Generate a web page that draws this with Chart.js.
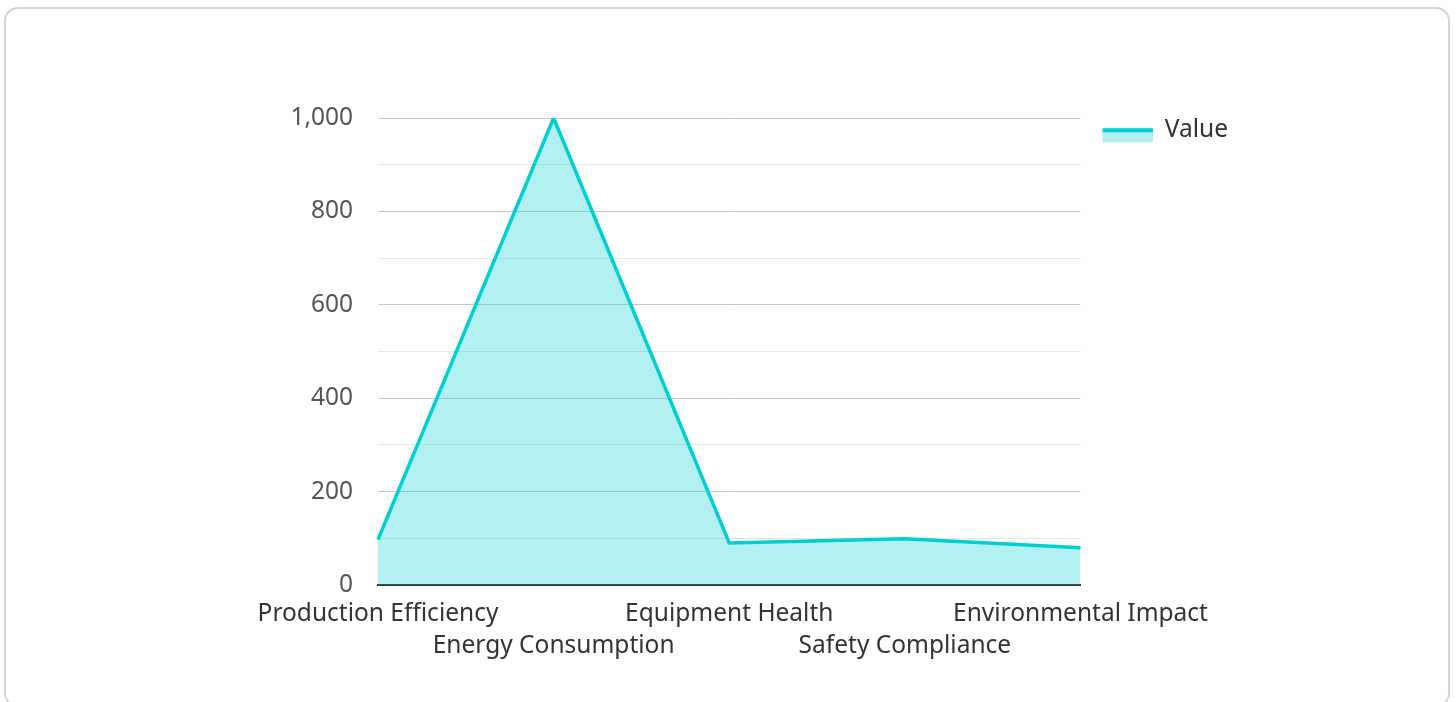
<!DOCTYPE html>
<html>
<head>
<meta charset="utf-8">
<script src="https://cdn.jsdelivr.net/npm/chart.js@4"></script>
<style>
  html, body { margin: 0; padding: 0; background: #fff; overflow: hidden; }
  #card { position: absolute; left: 4px; top: 7px; width: 1442px; height: 696px; border: 2px solid #d4d4d4; border-radius: 14px; background: #fff; }
  #wrap { position: absolute; left: 0; top: 0; width: 1456px; height: 702px; }
</style>
</head>
<body>
<div id="card"></div>
<div id="wrap"><canvas id="c" width="1456" height="702"></canvas></div>
<script>
const categories = ["Production Efficiency", "Energy Consumption", "Equipment Health", "Safety Compliance", "Environmental Impact"];
const seriesName = "Value";
const values = [97, 1000, 90, 99, 80];
const yMin = 0, yMax = 1000, yStep = 100, yLabelStep = 200;

const lineColor = "#00CED1";
const fillColor = "rgba(0,206,209,0.3)";
const fontFamily = "'Noto Sans', 'Open Sans', sans-serif";
const fontSize = 24.5;

function legendMarker() {
  const cv = document.createElement("canvas");
  cv.width = 72; cv.height = 30;
  const g = cv.getContext("2d");
  g.fillStyle = fillColor; g.fillRect(22, 13, 50, 14);
  g.fillStyle = lineColor; g.fillRect(22, 13, 50, 4);
  return cv;
}
const marker = legendMarker();

new Chart(document.getElementById("c"), {
  type: "line",
  data: {
    labels: categories,
    datasets: [{
      label: seriesName,
      data: values,
      borderColor: lineColor,
      backgroundColor: fillColor,
      borderWidth: 3.5,
      fill: "origin",
      tension: 0,
      pointRadius: 0,
      pointHoverRadius: 0
    }]
  },
  options: {
    responsive: false,
    animation: false,
    layout: { padding: { left: 250, right: 218, top: 118, bottom: 27 } },
    plugins: {
      tooltip: { enabled: false },
      legend: {
        position: "right",
        align: "start",
        labels: {
          usePointStyle: true,
          pointStyleWidth: 72,
          generateLabels: () => [{ text: seriesName, pointStyle: marker, fontColor: "#333", lineWidth: 0, strokeStyle: "transparent", datasetIndex: 0 }],
          boxHeight: 24,
          padding: 0,
          color: "#333",
          font: { family: fontFamily, size: fontSize }
        }
      }
    },
    scales: {
      x: {
        grid: { display: false, drawTicks: false },
        border: { display: true, color: "#333", width: 2 },
        ticks: {
          autoSkip: false,
          maxRotation: 0,
          padding: 13,
          color: "#333",
          font: { family: fontFamily, size: fontSize, lineHeight: 32 / fontSize },
          callback: function (v, i) { const l = this.getLabelForValue(v); return i % 2 ? ["", l] : l; }
        }
      },
      y: {
        min: yMin, max: yMax,
        afterFit: (s) => { s.width = 128; },
        grid: {
          drawTicks: false,
          color: (ctx) => (ctx.tick && ctx.tick.value % yLabelStep === 0) ? "#c8c8c8" : "#e6e6e6",
          lineWidth: 1
        },
        border: { display: false },
        ticks: {
          stepSize: yStep,
          padding: 25,
          color: "#555",
          font: { family: fontFamily, size: fontSize },
          callback: (v) => v % yLabelStep === 0 ? v.toLocaleString("en-US") : ""
        }
      }
    }
  }
});
</script>
</body>
</html>
